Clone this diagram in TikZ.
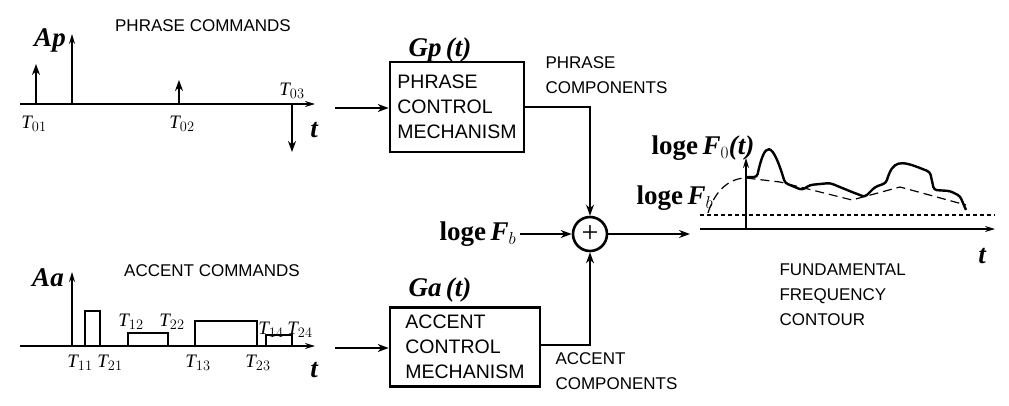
\documentclass[tikz,border=0pt]{standalone}
\usepackage{fontspec}
\setmainfont{Liberation Serif}
\newfontfamily\sans{Liberation Sans}
\usetikzlibrary{arrows.meta}
\begin{document}
\begin{tikzpicture}[x=1pt,y=-1pt,
 ax/.style={line width=1.5pt,-{Stealth[length=10pt,width=6pt]}},
 th/.style={line width=2.6pt,-{Stealth[length=11pt,width=8pt]}},
 box/.style={draw,line width=2.6pt,align=left,font=\sans\fontsize{19.5}{25}\selectfont,inner sep=6pt},
 lab/.style={font=\sans\fontsize{17}{25}\selectfont,align=left},
 ti/.style={font=\itshape\fontsize{19}{20}\selectfont},
 bi/.style={font=\bfseries\itshape\fontsize{27}{28}\selectfont},
 lg/.style={font=\bfseries\fontsize{27}{28}\selectfont},
 pl/.style={line width=1.5pt}]
\useasboundingbox (0,0) rectangle (1009,406);
% phrase commands
\coordinate (p0) at (20,104); \coordinate (p1) at (315,104);
\draw[ax] (p0) -- (p1);
\draw[ax] (72,104) -- (72,34);
\node[bi] (Ap) at (50,40) {Ap};
\draw[th] (36,104) -- (36,64);
\draw[th] (179,104) -- (179,80);
\draw[th] (292,104) -- (292,152);
\node[ti] (t01) at (34,124) {T$_{01}$};
\node[ti] (t02) at (182,124) {T$_{02}$};
\node[ti] (t03) at (292,91) {T$_{03}$};
\node[bi] (tp) at (314,130) {t};
\node[lab] (pc) at (203,26) {PHRASE COMMANDS};
% accent commands
\draw[ax] (20,346) -- (315,346);
\draw[ax] (72,346) -- (72,272);
\node[bi] (Aa) at (48,278) {Aa};
\draw[pl] (85,346) |- (100,311) -- (100,346);
\draw[pl] (128,346) |- (168,333) -- (168,346);
\draw[pl] (195,346) |- (257,321) -- (257,346);
\draw[pl] (266,346) |- (292,335) -- (292,346);
\node[ti] (t11) at (80,363) {T$_{11}$};
\node[ti] (t21) at (110,363) {T$_{21}$};
\node[ti] (t12) at (131,322) {T$_{12}$};
\node[ti] (t22) at (172,322) {T$_{22}$};
\node[ti] (t13) at (198,363) {T$_{13}$};
\node[ti] (t23) at (258,363) {T$_{23}$};
\node[ti] (t14) at (271,330) {T$_{14}$};
\node[ti] (t24) at (300,330) {T$_{24}$};
\node[bi] (ta) at (314,370) {t};
\node[lab] (ac) at (212,271) {ACCENT COMMANDS};
% boxes
\node[box,minimum width=134pt,minimum height=90pt] (pb) at (457,107) {PHRASE\\CONTROL\\MECHANISM};
\node[box,minimum width=150pt,minimum height=79pt] (ab) at (465,347) {ACCENT\\CONTROL\\MECHANISM};
\node[bi] (gp) at (440,50) {Gp\,(t)};
\node[bi] (ga) at (440,290) {Ga\,(t)};
\node[lab,anchor=west] (pco) at (542,75) {PHRASE\\COMPONENTS};
\node[lab,anchor=west] (aco) at (552,371) {ACCENT\\COMPONENTS};
\coordinate (ain) at (335,108); \coordinate (ain2) at (335,348);
\draw[th] (ain) -- (pb.west|-ain);
\draw[th] (ain2) -- (ab.west|-ain2);
\node[draw,circle,line width=2.6pt,minimum size=34pt,inner sep=0pt,font=\fontsize{30}{30}\selectfont] (sum) at (590,234) {+};
\draw[line width=2.6pt,-{Stealth[length=11pt,width=8pt]}] (pb.east|-0,107) -| (sum.north);
\draw[line width=2.6pt,-{Stealth[length=11pt,width=8pt]}] (ab.east|-0,345) -| (sum.south);
\node[lg] (fb) at (478,234) {loge\,\textit{F$_b$}};
\draw[th] (fb.east) -- (sum.west);
\coordinate (out) at (690,234);
\draw[th] (sum.east) -- (out);
% output plot
\draw[ax] (700,229) -- (995,229);
\draw[ax] (746,229) -- (746,158);
\draw[line width=1.3pt,dash pattern=on 4pt off 3pt] (700,215) -- (995,215);
\node[lg] (f0) at (703,148) {loge\,\textit{F$_0$(t)}};
\node[lg] (fb2) at (675,198) {loge\,\textit{F$_b$}};
\node[bi] (tr) at (982,256) {t};
\node[lab,anchor=west] (ffc) at (776,295) {FUNDAMENTAL\\FREQUENCY\\CONTOUR};
\draw[line width=2.4pt,rounded corners=3pt] (746,177) -- (757,177) .. controls (765,140) and (772,140) .. (785,183) -- (802,190) -- (810,185) -- (830,183) -- (852,192) -- (865,197) -- (875,187) -- (886,183) .. controls (893,160) and (900,160) .. (925,170) -- (930,172) -- (934,190) -- (950,191) -- (960,196) -- (966,210);
\draw[line width=1.2pt,dash pattern=on 9pt off 5pt] (708,213) .. controls (715,190) and (730,178) .. (746,178) -- (780,182) -- (852,200) -- (900,187) -- (966,205);
\end{tikzpicture}
\end{document}
